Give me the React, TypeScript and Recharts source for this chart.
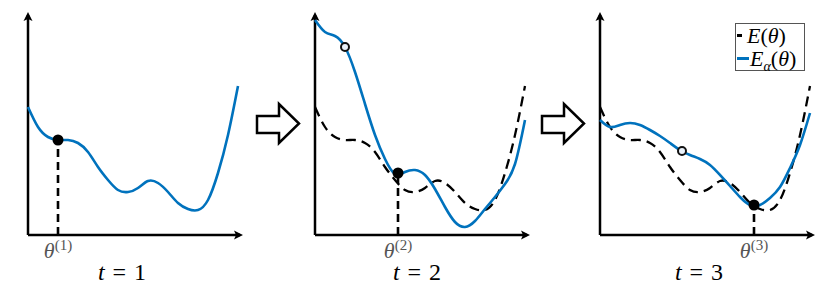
import React from "react";
import {
  LineChart,
  Line,
  XAxis,
  YAxis,
  ReferenceLine,
  ReferenceDot,
  Legend,
} from "recharts";

// parameter grid (theta) shared by every curve
const theta = [0, 10, 20, 30, 40, 50, 60, 70, 80, 90, 100, 110, 120, 130, 140, 150, 160, 170, 180, 190, 200, 210];
// original energy E(theta)
const energy = [128, 108, 98, 95, 95, 92, 83, 68, 55, 45, 43, 47, 54, 52, 43, 32, 26, 25, 35, 62, 100, 149];
// smoothed energies E_alpha(theta) for steps 2 and 3 (step 1 equals E)
const alphaStep2 = [215, 203, 199, 188, 163, 131, 100, 76, 61, 63, 65, 60, 46, 28, 13, 8, 14, 26, 38, 51, 71, 115];
const alphaStep3 = [115, 108, 110, 112, 110, 105, 99, 92, 85, 80, 76, 70, 60, 49, 38, 30, 30, 37, 48, 67, 90, 122];

const steps = [1, 2, 3];
const iterateTheta = [30, 83, 154];
const iterateValue = [95, 62, 30];
const previousTheta = [null, 30, 82];
const previousValue = [null, 188, 84];
const stepLabelTheta = [94, 102, 99];

const BLUE = "#0072BD";
const SERIF = "'Liberation Serif', 'DejaVu Serif', serif";

const W = 212; // x domain span (1 unit = 1 px)
const H = 220;
const margin = { top: 10, right: 12, left: 10, bottom: 0 };
const panelLeft = [28, 315, 600];

const ThetaTick = (props: any) => {
  const { x, y, step } = props;
  return (
    <text x={x} y={y + 21} textAnchor="middle" fill="#555" fontFamily={SERIF} fontSize={22}>
      <tspan fontStyle="italic">θ</tspan>
      <tspan fontSize={15} dy={-8}>
        ({step})
      </tspan>
    </text>
  );
};

const StepLabel = (props: any) => {
  const { viewBox, step, at } = props;
  const x = viewBox.x + at;
  return (
    <text x={x} y={viewBox.y + 45} textAnchor="middle" fill="#000" fontFamily={SERIF} fontSize={24}>
      <tspan fontStyle="italic">t</tspan>
      <tspan dx={8}>=</tspan>
      <tspan dx={8}>{step}</tspan>
    </text>
  );
};

const arrowRight = (p: any) => (
  <path d={`M${p.cx + 3},${p.cy} L${p.cx - 6},${p.cy - 4.5} L${p.cx - 4},${p.cy} L${p.cx - 6},${p.cy + 4.5} Z`} fill="#000" />
);
const arrowUp = (p: any) => (
  <path d={`M${p.cx},${p.cy - 3} L${p.cx - 4.5},${p.cy + 6} L${p.cx},${p.cy + 4} L${p.cx + 4.5},${p.cy + 6} Z`} fill="#000" />
);

const LegendBox = (props: any) => {
  const { payload = [] } = props;
  return (
    <div
      style={{
        border: "1.5px solid #555",
        background: "#fff",
        fontFamily: SERIF,
        fontSize: 22,
        lineHeight: "23px",
        padding: "0 2px 0 1px",
      }}
    >
      {payload.map((entry: any) => {
        const dashed = entry.dataKey === "energy";
        return (
          <div key={entry.dataKey} style={{ display: "flex", alignItems: "center", whiteSpace: "nowrap" }}>
            <span
              style={{
                display: "inline-block",
                width: dashed ? 5 : 12,
                height: 2.5,
                background: entry.color,
                marginRight: dashed ? 5 : 1,
              }}
            />
            {dashed ? (
              <span>
                <i>E</i>(<i>θ</i>)
              </span>
            ) : (
              <span>
                <i>E</i>
                <sub style={{ fontSize: 14, fontStyle: "italic", lineHeight: 0 }}>α</sub>(<i>θ</i>)
              </span>
            )}
          </div>
        );
      })}
    </div>
  );
};

const Panel = ({ index }: { index: number }) => {
  const step = steps[index];
  const alpha = index === 0 ? energy : index === 1 ? alphaStep2 : alphaStep3;
  const data = theta.map((t, i) => ({ theta: t, energy: energy[i], alpha: alpha[i] }));
  const pt = previousTheta[index];
  const pv = previousValue[index];

  return (
    <div style={{ position: "absolute", left: panelLeft[index] - margin.left, top: 5 }}>
      <LineChart width={margin.left + W + margin.right} height={margin.top + H + 50} data={data} margin={margin}>
        <XAxis
          type="number"
          dataKey="theta"
          domain={[0, W]}
          ticks={[iterateTheta[index]]}
          interval={0}
          tickLine={false}
          tickSize={0}
          tick={<ThetaTick step={step} />}
          height={50}
          axisLine={{ stroke: "#000", strokeWidth: 2.5 }}
          label={<StepLabel step={step} at={stepLabelTheta[index]} />}
        />
        <YAxis type="number" domain={[0, H]} width={0} tick={false} tickLine={false} axisLine={false} />
        <ReferenceLine
          segment={[
            { x: 0, y: 0 },
            { x: 0, y: H },
          ]}
          stroke="#000"
          strokeWidth={2.5}
          ifOverflow="visible"
        />
        {index > 0 && (
          <Line
            dataKey="energy"
            name="E(θ)"
            type="natural"
            stroke="#000"
            strokeWidth={2.3}
            strokeDasharray="10 6"
            dot={false}
            isAnimationActive={false}
          />
        )}
        <Line
          dataKey="alpha"
          name="Eα(θ)"
          type="natural"
          stroke={BLUE}
          strokeWidth={2.6}
          dot={false}
          isAnimationActive={false}
        />
        <ReferenceLine
          segment={[
            { x: iterateTheta[index], y: 0 },
            { x: iterateTheta[index], y: iterateValue[index] },
          ]}
          stroke="#000"
          strokeWidth={2.6}
          strokeDasharray="8 5"
          ifOverflow="visible"
        />
        {pt !== null && pv !== null && (
          <ReferenceDot x={pt} y={pv} r={4} fill="#eaf2fa" stroke="#111" strokeWidth={2} ifOverflow="visible" />
        )}
        <ReferenceDot x={iterateTheta[index]} y={iterateValue[index]} r={5.5} fill="#000" stroke="none" ifOverflow="visible" />
        <ReferenceDot x={W} y={0} r={0} shape={arrowRight} ifOverflow="visible" />
        <ReferenceDot x={0} y={H} r={0} shape={arrowUp} ifOverflow="visible" />
        {index === 2 && (
          <Legend
            layout="vertical"
            align="center"
            verticalAlign="middle"
            content={<LegendBox />}
            wrapperStyle={{ left: 145, top: 18, width: 70 }}
          />
        )}
      </LineChart>
    </div>
  );
};

const blockArrow = (x0: number) =>
  `M${x0},116 L${x0 + 22},116 L${x0 + 22},104 L${x0 + 42},123.5 L${x0 + 22},143 L${x0 + 22},133 L${x0},133 Z`;

export default function App() {
  return (
    <div style={{ position: "absolute", left: 0, top: 0, width: 818, height: 285, background: "#fff", overflow: "hidden" }}>
      {steps.map((s, i) => (
        <Panel key={s} index={i} />
      ))}
      <svg width={818} height={285} style={{ position: "absolute", left: 0, top: 0, pointerEvents: "none" }}>
        <path d={blockArrow(257)} fill="#fff" stroke="#000" strokeWidth={2.5} strokeLinejoin="miter" />
        <path d={blockArrow(542)} fill="#fff" stroke="#000" strokeWidth={2.5} strokeLinejoin="miter" />
      </svg>
    </div>
  );
}
